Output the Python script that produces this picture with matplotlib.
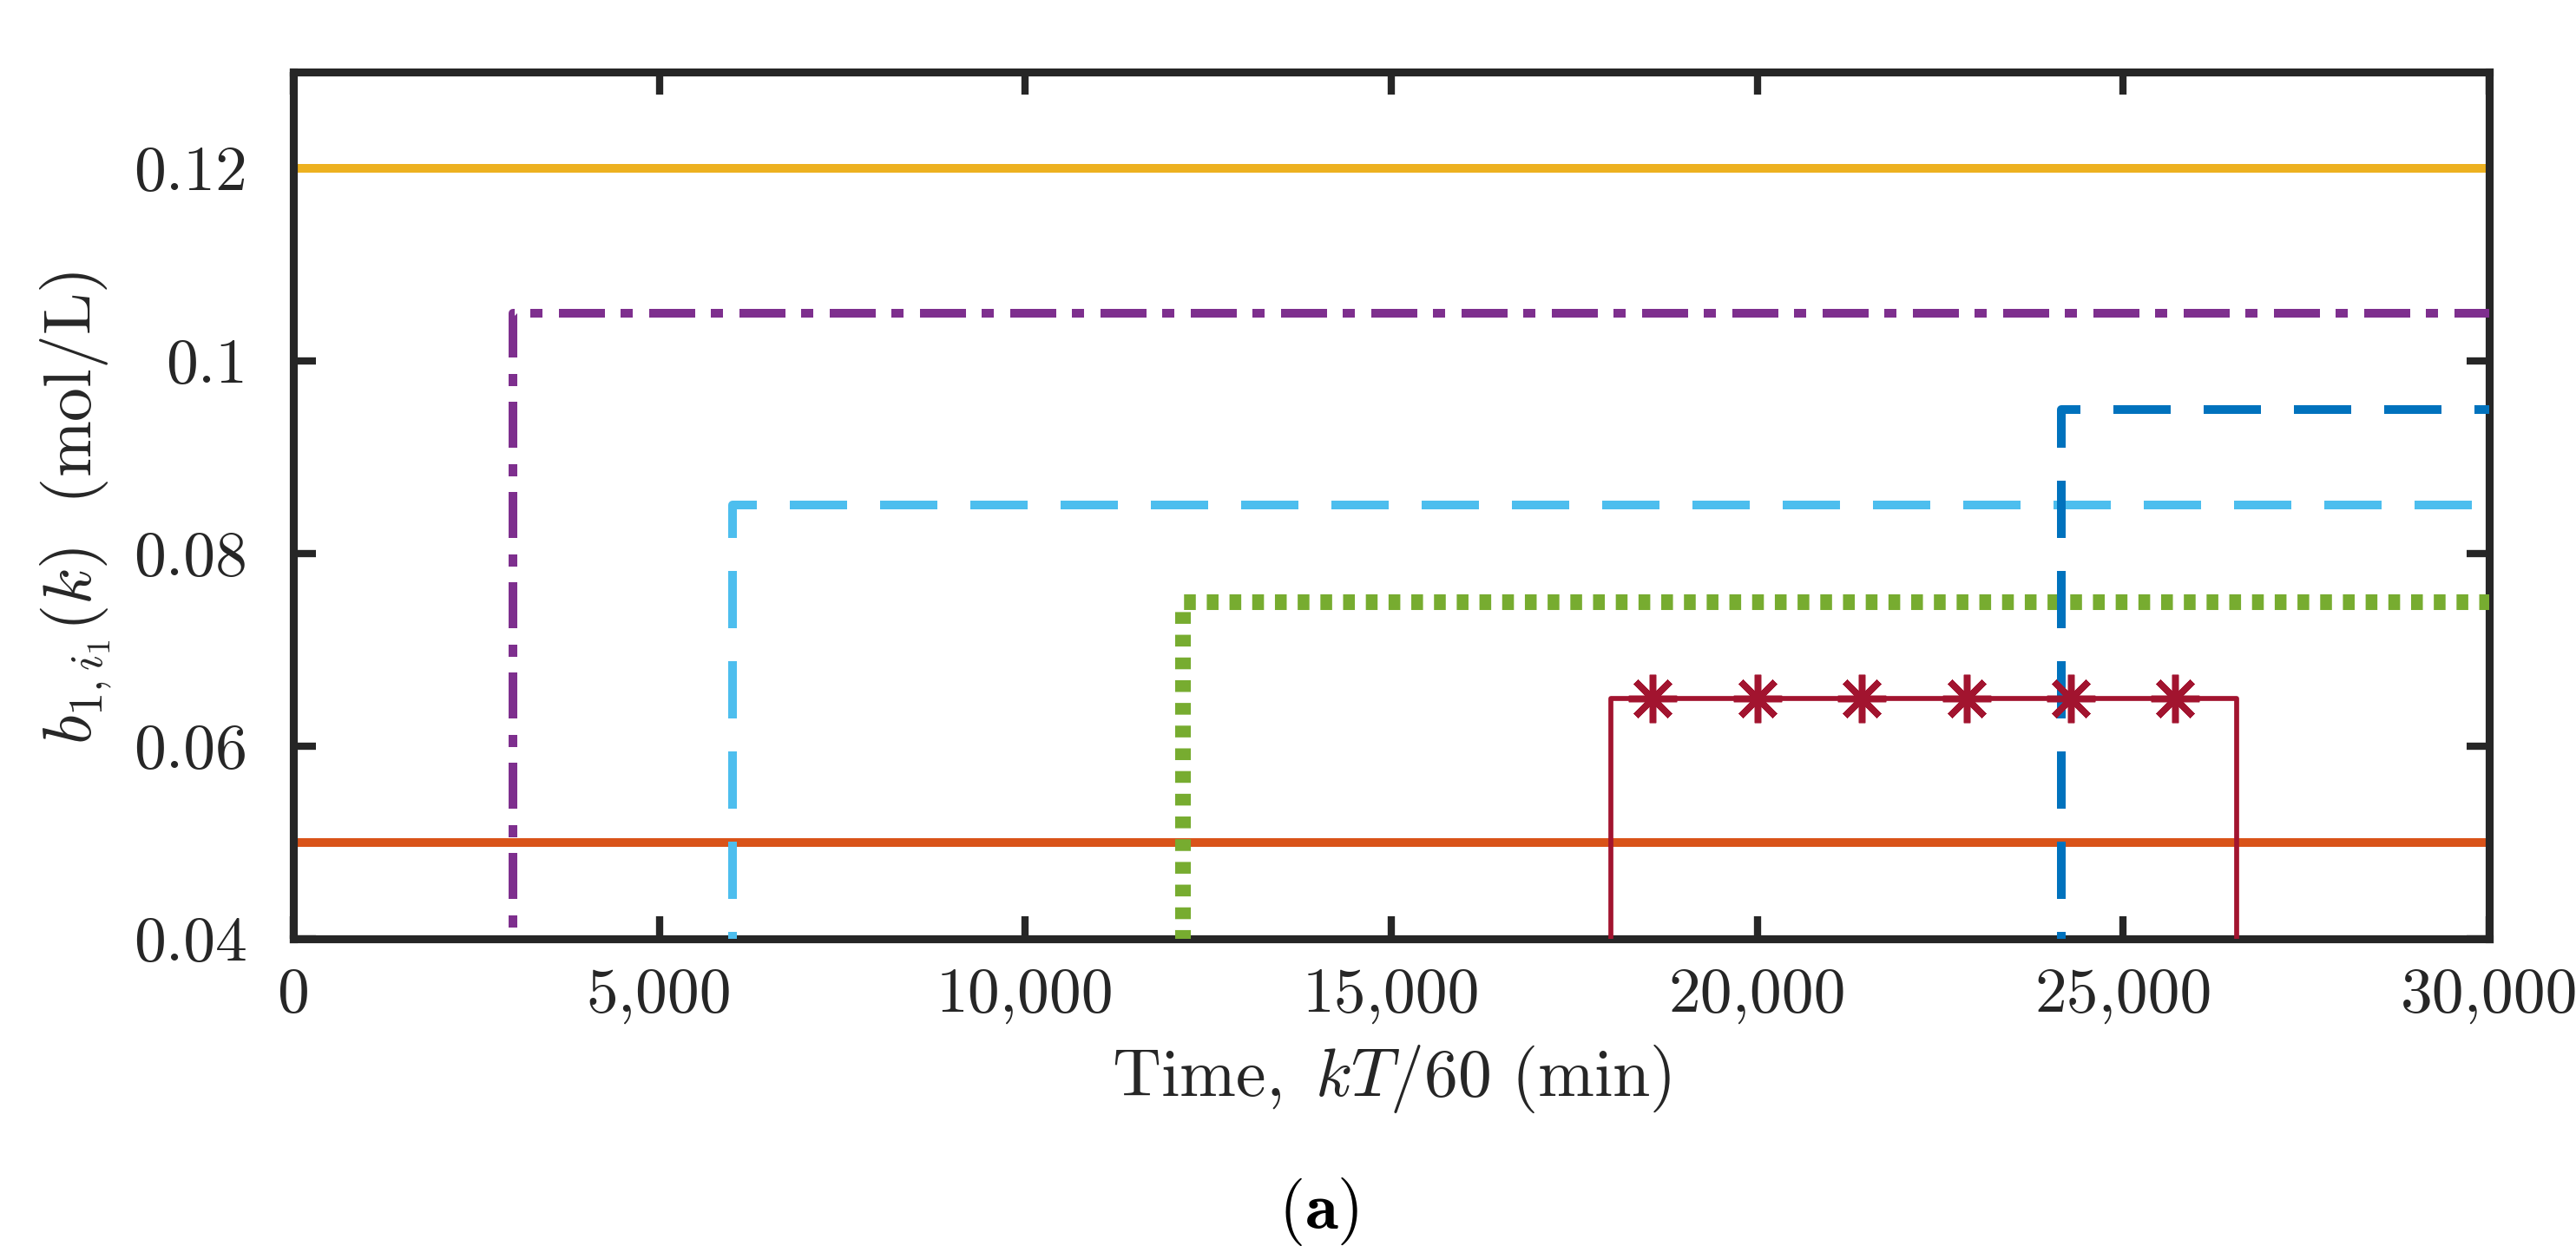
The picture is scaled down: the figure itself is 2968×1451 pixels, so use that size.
import numpy as np
import matplotlib
matplotlib.use("Agg")
import matplotlib.pyplot as plt
from matplotlib.ticker import FuncFormatter

plt.rcParams['mathtext.fontset'] = 'cm'
plt.rcParams['font.family'] = ['cmr10', 'DejaVu Serif']
plt.rcParams['axes.formatter.use_mathtext'] = True

## data (min, mol/L)
t_end = 30000
# constant levels
b_yellow = 0.12
b_orange = 0.05
# step series: (time of step, level after step)
t_purple, b_purple = 3000, 0.105
t_lblue, b_lblue = 6000, 0.085
t_green, b_green = 12150, 0.075
t_blue, b_blue = 24150, 0.095
# pulse series: on from t_red_on to t_red_off
t_red_on, t_red_off, b_red = 18000, 26550, 0.065
red_marks = [18570, 20000, 21430, 22860, 24290, 25710]

x_ticks = [0, 5000, 10000, 15000, 20000, 25000, 30000]
y_ticks = [0.04, 0.06, 0.08, 0.1, 0.12]

ax_col = '#262626'
c_blue = '#0072BD'
c_orange = '#D95319'
c_yellow = '#EDB120'
c_purple = '#7E2F8E'
c_green = '#77AC30'
c_lblue = '#4DBEEE'
c_red = '#A2142F'


def step(t0, b):
    return [0, t0, t0, t_end], [0, 0, b, b]


fig = plt.figure(figsize=(2968 / 200, 1451 / 200), dpi=200)
ax = fig.add_axes([338 / 2968, 1 - 1082 / 1451, 2530 / 2968, 999 / 1451])

lw = 3.6
ax.plot([0, t_end], [b_orange, b_orange], color=c_orange, lw=lw, zorder=2)
ax.plot([0, t_end], [b_yellow, b_yellow], color=c_yellow, lw=lw, zorder=2)

x, y = step(t_purple, b_purple)
ax.plot(x, y, color=c_purple, lw=lw, dashes=(5.3, 1.8, 1.4, 1.9), zorder=3)
x, y = step(t_lblue, b_lblue)
ax.plot(x, y, color=c_lblue, lw=lw, dashes=(6.6, 3.8), zorder=3)
x, y = step(t_green, b_green)
ax.plot(x, y, color=c_green, lw=6.5, dashes=(0.75, 0.7), zorder=3)
x, y = step(t_blue, b_blue)
ax.plot(x, y, color=c_blue, lw=lw, dashes=(6.6, 3.8), zorder=3)

ax.plot([t_red_on, t_red_on, t_red_off, t_red_off], [0, b_red, b_red, 0],
        color=c_red, lw=2.05, zorder=4)
ax.plot(red_marks, [b_red] * len(red_marks), linestyle='none', marker=(8, 2, 0),
        markersize=20, markeredgewidth=2.7, color=c_red, zorder=5)

ax.set_xlim(0, t_end)
ax.set_ylim(0.04, 0.13)
ax.set_xticks(x_ticks)
ax.set_yticks(y_ticks)
ax.xaxis.set_major_formatter(FuncFormatter(lambda v, p: "{:,}".format(int(round(v)))))
ax.yaxis.set_major_formatter(FuncFormatter(lambda v, p: "%g" % v))

for s in ax.spines.values():
    s.set_linewidth(3.3)
    s.set_color(ax_col)
ax.tick_params(direction='in', length=9.4, width=3.0, color=ax_col, labelcolor=ax_col,
               labelsize=26.5, top=True, right=True)
ax.tick_params(axis='x', pad=12)
ax.tick_params(axis='y', pad=19)

fig.text(1603 / 2968, 1 - 1263 / 1451, r"$\mathrm{Time,}\ kT/60\ (\mathrm{min})$",
         fontsize=28, color=ax_col, ha='center', va='baseline')
fig.text(88 / 2968, 1 - 585 / 1451, r"$b_{1,i_1}(k)\ \ (\mathrm{mol/L})$",
         fontsize=28, color=ax_col, rotation=90, ha='center', va='center')
fig.text(1519 / 2968, 1 - 1397 / 1451, r"$(\mathbf{a})$", fontsize=28,
         color='black', ha='center', va='center')

fig.savefig("out.png", dpi=200)
